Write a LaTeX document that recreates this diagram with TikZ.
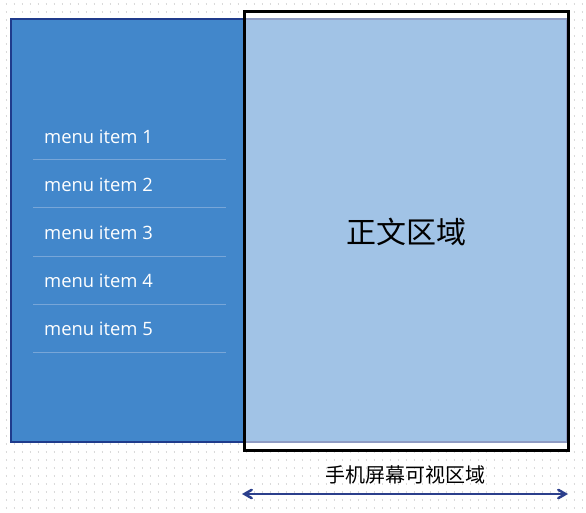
\documentclass[tikz,border=0pt]{standalone}
\usepackage{fontspec}
\setmainfont{Open Sans}
\newfontfamily\cjk{Noto Sans CJK SC}
\usetikzlibrary{arrows}
\usetikzlibrary{backgrounds,positioning,calc}
\usepackage{xcolor}
\definecolor{dotgray}{HTML}{DADADA}
\definecolor{menublue}{HTML}{4287CB}
\definecolor{menuedge}{HTML}{1F3B8C}
\definecolor{menuline}{HTML}{78A6D8}
\definecolor{bodyblue}{HTML}{A1C3E6}
\definecolor{bodyedge}{HTML}{8F9CC4}
\definecolor{arrowblue}{HTML}{2B3F8C}

\begin{document}
\begin{tikzpicture}[x=1pt,y=-1pt]
      \useasboundingbox (0,0) rectangle (586,513);

      % dotted paper
      \foreach \y in {4,12,...,508}
        \draw[dotgray,line width=1.2pt,dash pattern=on 1.2pt off 6.8pt] (5.5,\y) -- (586,\y);

      \begin{scope}[shape=rectangle,inner sep=0pt,outer sep=0pt]
          \node[fill=white,minimum width=324pt,minimum height=438pt] (screen) at (406,231) {};
          \node[draw=menuedge,fill=menublue,line width=2pt,minimum width=234pt,minimum height=423pt] (menu) at (128,230.5) {};
          \node[draw=bodyedge,fill=bodyblue,line width=2pt,minimum width=322pt,minimum height=423pt] (body) at (406,230.5) {};
          \node[draw=black,line width=3pt,minimum width=324pt,minimum height=438pt] (frame) at (406,231) {};
      \end{scope}

      \begin{scope}[font=\fontsize{18.4}{22}\selectfont,text=white,anchor=west,inner sep=0pt]
          \node (item1) at (44,137) {menu item 1};
          \node (item2) at (44,185) {menu item 2};
          \node (item3) at (44,233) {menu item 3};
          \node (item4) at (44,281) {menu item 4};
          \node (item5) at (44,329) {menu item 5};
      \end{scope}

      \foreach \y in {160,208,256,304,352}
        \draw[menuline,line width=1pt] (33,\y) -- (226,\y);

      \node[font=\cjk\fontsize{30}{34}\selectfont] (main) at (406,232) {正文区域};

      \coordinate (left)  at (242,494);
      \coordinate (right) at (568,494);
      \draw[<->,arrowblue,line width=2.5pt,>=angle 60] (left) -- (right);
      \node[font=\cjk\fontsize{20}{24}\selectfont,above=6pt of $(left)!0.5!(right)$] (view) {手机屏幕可视区域};
\end{tikzpicture}
\end{document}
